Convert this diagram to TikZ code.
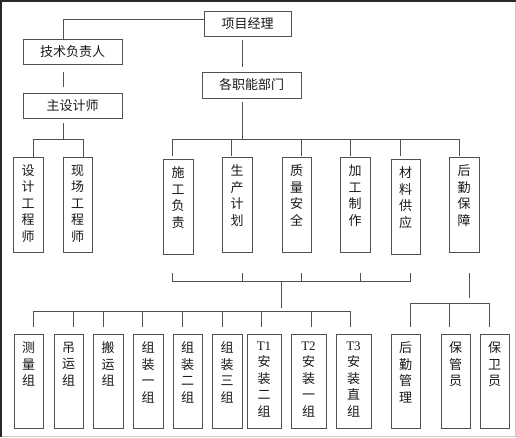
\documentclass[tikz,border=0pt]{standalone}
\usepackage{fontspec}
\newfontfamily\cjk{Noto Sans CJK SC}
\newfontfamily\latf{Liberation Serif}
\definecolor{lc}{RGB}{80,80,80}
\definecolor{tc}{RGB}{25,25,25}
\definecolor{frdark}{RGB}{40,40,40}
\definecolor{frlight}{RGB}{200,200,200}
\newcommand\HB[6]{\node[box, hlab, minimum width={#4-#2}, minimum height={#5-#3}] (#1) at ({(#2+#4)/2},{(#3+#5)/2}) {#6};}
\newcommand\VBX[6]{\node[box, minimum width={#4-#2}, minimum height={#5-#3}] (#1) at ({(#2+#4)/2},{(#3+#5)/2}) {};\node[vlab] (#1t) at (#1.north) {#6};}
\begin{document}
\begin{tikzpicture}[x=1pt,y=-1pt,
  box/.style={draw=lc, line width=0.9pt, inner sep=0pt},
  hlab/.style={font=\cjk\fontsize{13}{15}\selectfont, text=tc},
  vlab/.style={anchor=north, yshift=-8pt, inner sep=0pt, align=center, font=\cjk\fontsize{13}{16.5}\selectfont, text=tc},
  conn/.style={draw=lc, line width=0.9pt}]
\useasboundingbox (0,0) rectangle (516,437);
\fill[white] (0,0) rectangle (516,437);
% frame
\draw[frdark, line width=1.6pt] (0,0.8) -- (516,0.8);
\draw[frdark, line width=1.6pt] (0.8,0) -- (0.8,437);
\draw[frlight, line width=1pt] (515.5,1.6) -- (515.5,437);
\draw[frlight, line width=1pt] (1.6,436.5) -- (516,436.5);
% top boxes
\HB{pm}{204}{11}{291}{36}{项目经理}
\HB{tech}{23}{39}{122}{64}{技术负责人}
\HB{dept}{202}{72}{301}{98}{各职能部门}
\HB{chief}{23}{93}{122}{118}{主设计师}
% engineers
\VBX{d1}{13}{157}{43}{252}{设\\计\\工\\程\\师}
\VBX{d2}{63}{157}{92}{252}{现\\场\\工\\程\\师}
% departments
\VBX{m1}{163}{159}{193}{254}{施\\工\\负\\责}
\VBX{m2}{222}{157}{252}{252}{生\\产\\计\\划}
\VBX{m3}{282}{157}{311}{252}{质\\量\\安\\全}
\VBX{m4}{340}{157}{370}{252}{加\\工\\制\\作}
\VBX{m5}{391}{159}{420}{254}{材\\料\\供\\应}
\VBX{m6}{449}{157}{479}{252}{后\\勤\\保\\障}
% bottom groups
\VBX{b1}{14}{334}{43}{428}{测\\量\\组}
\VBX{b2}{54}{334}{83}{428}{吊\\运\\组}
\VBX{b3}{93}{334}{123}{428}{搬\\运\\组}
\VBX{b4}{133}{334}{163}{428}{组\\装\\一\\组}
\VBX{b5}{173}{334}{202}{428}{组\\装\\二\\组}
\VBX{b6}{212}{334}{242}{428}{组\\装\\三\\组}
\VBX{b7}{247}{334}{281}{428}{{\latf T1}\\安\\装\\二\\组}
\VBX{b8}{291}{334}{326}{428}{{\latf T2}\\安\\装\\一\\组}
\VBX{b9}{336}{334}{371}{428}{{\latf T3}\\安\\装\\直\\组}
\VBX{b10}{391}{334}{420}{428}{后\\勤\\管\\理}
\VBX{b11}{441}{334}{470}{428}{保\\管\\员}
\VBX{b12}{480}{334}{509}{428}{保\\卫\\员}
% connectors
\draw[conn] (pm.west |- 0,19) -- (63,19) -- (63,39);
\draw[conn] (63,72) -- (63,87);
\draw[conn] (242,40) -- (242,67);
\draw[conn] (63,123) -- (63,139);
\draw[conn] (33,157) -- (33,139) -- (83,139) -- (83,157);
\draw[conn] (242,102) -- (242,139);
\draw[conn] (172,156) -- (172,139) -- (459,139) -- (459,156);
\foreach \x in {231,301,350,400} \draw[conn] (\x,139) -- (\x,156);
\draw[conn] (172,273) -- (172,281) -- (410,281) -- (410,273);
\foreach \x in {242,301,360} \draw[conn] (\x,273) -- (\x,281);
\draw[conn] (281,281) -- (281,308);
\draw[conn] (33,327) -- (33,311) -- (350,311) -- (350,327);
\foreach \x in {73,103,142,182,222,261,311} \draw[conn] (\x,311) -- (\x,327);
\draw[conn] (469,273) -- (469,298);
\draw[conn] (410,327) -- (410,303) -- (489,303) -- (489,327);
\draw[conn] (449,303) -- (449,327);
\end{tikzpicture}
\end{document}
